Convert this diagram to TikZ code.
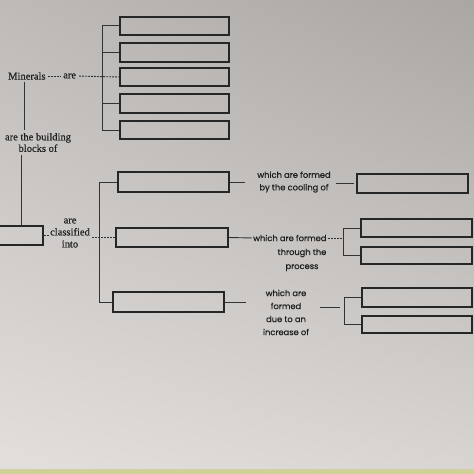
\documentclass[tikz,border=0pt]{standalone}
\usepackage{fontspec}
\usetikzlibrary{shadings}
\setmainfont[FakeBold=0.4]{Liberation Serif}
\newfontfamily\labsans[FakeBold=0.6]{Poppins}
\definecolor{boxcol}{HTML}{262626}
\definecolor{linecol}{HTML}{333333}
\definecolor{txtcol}{HTML}{1F1F1F}
\definecolor{bgUL}{HTML}{BDBAB8}
\definecolor{bgUR}{HTML}{A9A6A4}
\definecolor{bgLL}{HTML}{E2DFDC}
\definecolor{bgLR}{HTML}{D8D5D2}
\definecolor{stripcol}{HTML}{D0D198}
\begin{document}
\begin{tikzpicture}[x=1pt,y=-1pt,
 box/.style={draw=boxcol, line width=2pt, minimum width=109pt, minimum height=18pt, inner sep=0pt},
 ln/.style={draw=linecol, line width=0.9pt},
 dsh/.style={ln, dash pattern=on 2pt off 1pt},
 serif/.style={font=\fontsize{10.5}{11.5}\selectfont, text=txtcol, inner sep=0pt, align=center},
 sans/.style={font=\labsans\fontsize{8.3}{12.5}\selectfont, text=txtcol, inner sep=0pt, align=center}]
\clip (0,0) rectangle (474,474);
\useasboundingbox (0,0) rectangle (474,474);
\shade[upper left=bgUL, upper right=bgUR, lower left=bgLL, lower right=bgLR] (0,0) rectangle (474,474);
\fill[stripcol] (0,469) rectangle (474,474);

% top boxes
\node[box] (t1) at (174.5,25.5) {};
\node[box, minimum height=19pt] (t2) at (174.5,52.5) {};
\node[box] (t3) at (174.5,77) {};
\node[box, minimum height=19pt] (t4) at (174.5,103.5) {};
\node[box] (t5) at (174.5,130) {};

% middle boxes
\node[box, minimum width=111pt, minimum height=20pt] (A) at (173.5,182) {};
\node[box, minimum width=112pt, minimum height=19pt] (B) at (172,237.5) {};
\node[box, minimum width=111pt, minimum height=20pt] (C) at (168.5,302) {};

% left box
\node[box, minimum width=48pt, minimum height=19pt] (L) at (19,235.5) {};

% right boxes
\node[box, minimum width=111pt, minimum height=19pt] (D) at (412.5,183.5) {};
\node[box, minimum width=111pt] (E) at (416.5,228) {};
\node[box, minimum width=111pt, minimum height=17pt] (F) at (416.5,255.5) {};
\node[box, minimum width=110pt, minimum height=19pt] (G) at (417,297.5) {};
\node[box, minimum width=110pt, minimum height=17pt] (H) at (417,324.5) {};

% serif labels
\node[serif, anchor=west] (min) at (8,76) {Minerals};
\node[serif, anchor=west] (are) at (63,76) {are};
\node[serif] (build) at (38,142.5) {are the building\\blocks of};
\node[serif, font=\fontsize{10.5}{12}\selectfont] (cls) at (70,233) {are\\classified\\into};

% sans labels
\node[sans] (l1) at (294,182) {which are formed\\by the cooling of};
\node[sans, anchor=west] (l2) at (253,238) {which are formed};
\node[sans, font=\labsans\fontsize{8.3}{14}\selectfont] (l2b) at (302,260) {through the\\process};
\node[sans, font=\labsans\fontsize{8.3}{13}\selectfont] (l3) at (286,312.5) {which are\\formed\\due to an\\increase of};

% bracket coordinates
\coordinate (b1) at (102,0);
\coordinate (b2) at (99,0);
\coordinate (b3) at (343,0);
\coordinate (b4) at (344,0);
\coordinate (f4) at (340,307);

% Minerals connections
\draw[dsh, shorten <=2pt, shorten >=2pt] (min.east) -- (are.west);
\draw[dsh, shorten <=3pt] (are.east) -- (t3.west);
\draw[ln] (t1.west) -- (t1.west -| b1) -- (t5.west -| b1) -- (t5.west);
\draw[ln] (t2.west) -- (t2.west -| b1);
\draw[ln] (t4.west) -- (t4.west -| b1);
\draw[ln, shorten <=2pt, shorten >=3pt] ([xshift=-2.5pt]min.south) -- ([xshift=-2.5pt]min.south |- build.north);
\draw[ln, shorten >=3pt] ([xshift=2pt]L.north) -- ([xshift=2pt]L.north |- build.south);

% classified
\draw[dsh, shorten >=1pt] (L.east) -- (L.east -| cls.west);
\draw[dsh, shorten <=2pt] (B.west -| cls.east) -- (B.west);
\draw[ln] (A.west) -- (A.west -| b2) -- (C.west -| b2) -- (C.west);

% right side
\draw[ln, shorten >=12pt] (A.east) -- (A.east -| l1.west);
\draw[ln, shorten <=5pt, shorten >=2pt] (l1.east |- D.west) -- (D.west);
\draw[ln, shorten >=1pt] (B.east) -- (l2.west);
\draw[dsh, shorten <=1pt] (l2.east) -- (l2.east -| b3);
\draw[ln] (E.west) -- (E.west -| b3) -- (F.west -| b3) -- (F.west);
\draw[ln, shorten >=17pt] (C.east) -- (C.east -| l3.west);
\draw[ln, shorten <=11pt] (f4 -| l3.east) -- (f4);
\draw[ln] (G.west) -- (G.west -| b4) -- (H.west -| b4) -- (H.west);
\end{tikzpicture}
\end{document}
